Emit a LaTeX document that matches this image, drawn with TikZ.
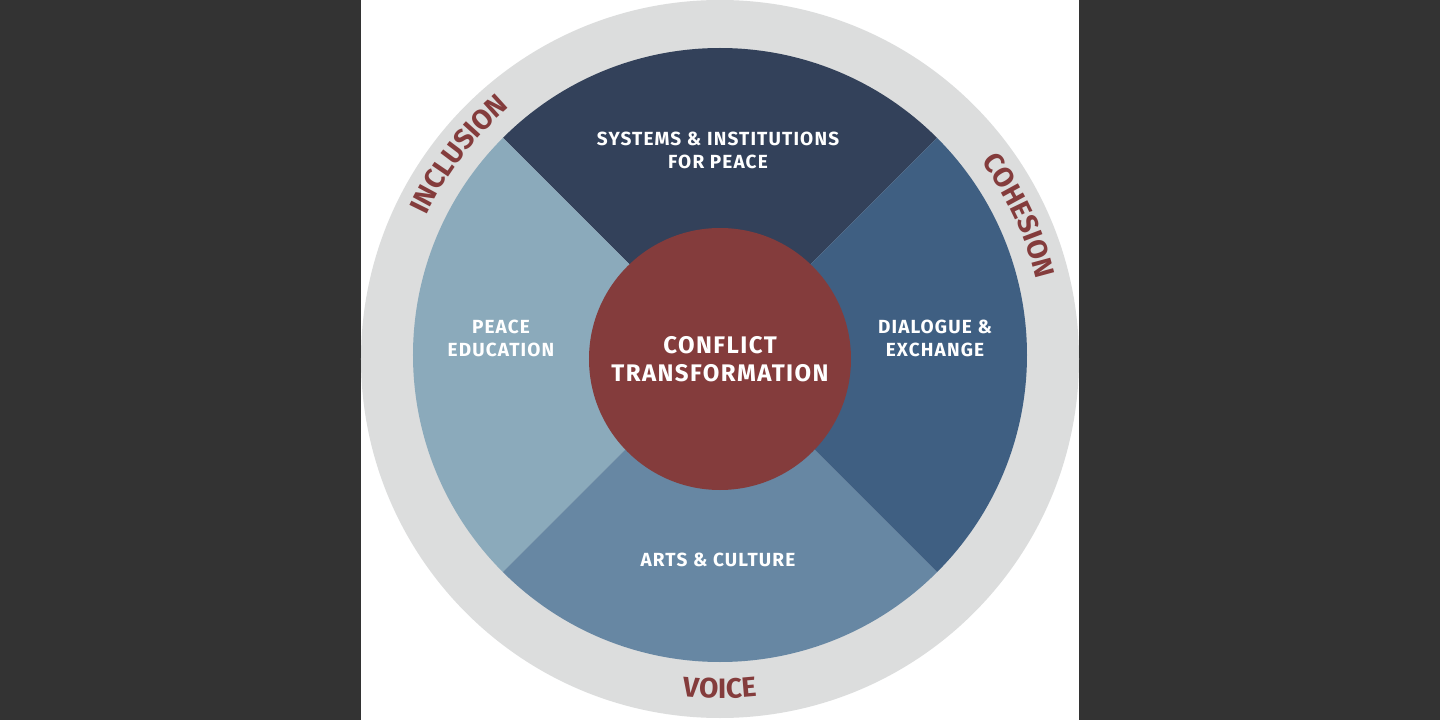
\documentclass[tikz,border=0pt]{standalone}
\usepackage{fontspec}
\setmainfont{Fira Sans}[LetterSpace=6]
\usetikzlibrary{decorations.text}
\definecolor{bgdark}{HTML}{333333}
\definecolor{ringgray}{HTML}{DCDDDD}
\definecolor{qtop}{HTML}{33415A}
\definecolor{qright}{HTML}{3F5F82}
\definecolor{qbottom}{HTML}{6787A3}
\definecolor{qleft}{HTML}{8BAABB}
\definecolor{redc}{HTML}{843C3C}
\tikzset{
  lbl/.style={text=white,font=\fontsize{19}{23}\selectfont\bfseries,align=center},
  arclbl/.style={decorate,decoration={text along path,text align=center,
     text={|\fontsize{28}{28}\selectfont\bfseries\color{redc}|#1}}}
}
\begin{document}
\begin{tikzpicture}[x=1pt,y=1pt]
\fill[bgdark] (-720,-360) rectangle (720,360);
\fill[white] (-359,-360) rectangle (359,360);
\useasboundingbox (-720,-360) rectangle (720,360);
\fill[ringgray] (0,1) circle (359);
\coordinate (c) at (0,5);
\fill[qtop] (c) -- ++(45:307) arc (45:135:307) -- cycle;
\fill[qleft] (c) -- ++(135:307) arc (135:225:307) -- cycle;
\fill[qbottom] (c) -- ++(225:307) arc (225:315:307) -- cycle;
\fill[qright] (c) -- ++(315:307) arc (315:405:307) -- cycle;
\node[circle,fill=redc,minimum size=262,inner sep=0] (center) at (0,1) {};
\node[lbl,font=\fontsize{24}{28}\selectfont\bfseries] at (center) {CONFLICT\\TRANSFORMATION};
\node[lbl] (sys) at (-2,210) {SYSTEMS \& INSTITUTIONS\\FOR PEACE};
\node[lbl] (ped) at (-219,22) {PEACE\\EDUCATION};
\node[lbl] (dia) at (215,22) {DIALOGUE \&\\EXCHANGE};
\node[lbl] (art) at (-2,-200) {ARTS \& CULTURE};
\path[arclbl=INCLUSION] (c) ++(175:325) arc (175:110:325);
\path[arclbl=COHESION] (c) ++(60:325) arc (60:-10:325);
\path[arclbl=VOICE] (c) ++(245:343) arc (245:295:343);
\end{tikzpicture}
\end{document}
